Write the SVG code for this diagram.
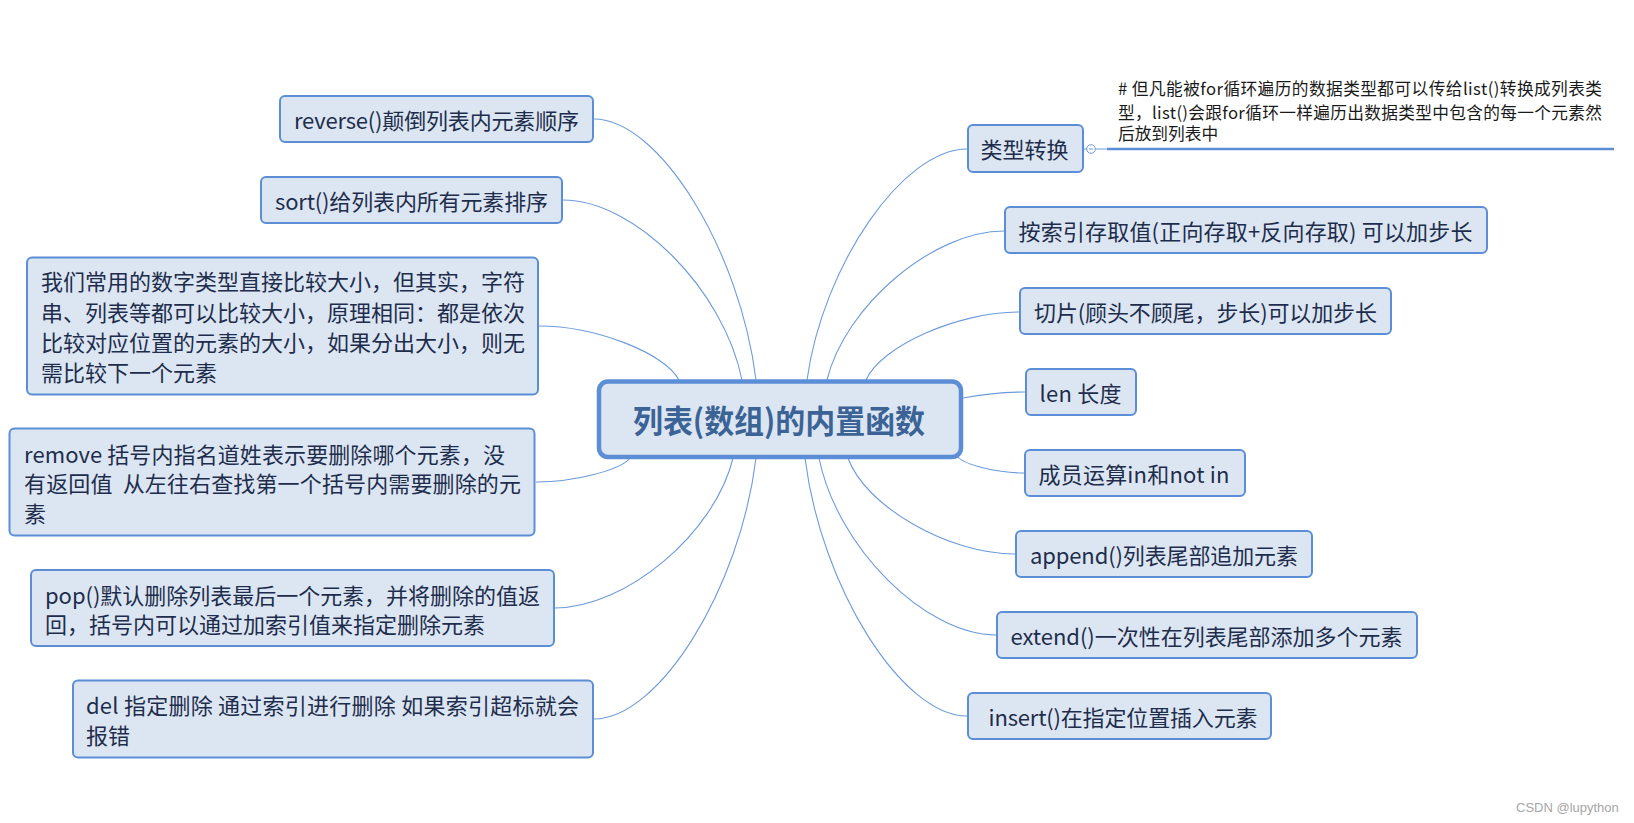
<svg xmlns="http://www.w3.org/2000/svg" width="1634" height="823" viewBox="0 0 1634 823">
<style>
.bg{fill:#ffffff}
.node rect{fill:#DCE6F2;stroke:#5B8ED6;stroke-width:2}
.node text{font-family:"Noto Sans CJK SC","Noto Sans",sans-serif;font-size:22px;fill:#1E2D4C}
#central rect{stroke-width:4.5}
#central text{font-size:32px;font-weight:bold;fill:#3B6396}
.conn path{fill:none;stroke:#6D9BDB;stroke-width:1.1}
.note{font-family:"Noto Sans CJK SC","Noto Sans",sans-serif;font-size:16.7px;fill:#1a1a1a}
.wm{font-family:"Liberation Sans",Arial,sans-serif;font-size:13px;fill:#a6a6a6}
</style>
<rect class="bg" x="0" y="0" width="1634" height="823"/>

<g id="connectors" class="conn">
  <path d="M594,119 C659,119 740,250 756,380"/>
  <path d="M563,200 C635,200 724,290 742,380"/>
  <path d="M539,326 C595,326 665,353 679,380"/>
  <path d="M536,482 C574,482 621,470 630,458"/>
  <path d="M555,608 C626,608 715,533 733,458"/>
  <path d="M594,719 C659,719 740,589 756,458"/>
  <path d="M967,149 C903,149 823,265 807,380"/>
  <path d="M1004,231 C933,231 845,306 827,380"/>
  <path d="M1019,312 C958,312 881,346 866,380"/>
  <path d="M1025,392 C1000,392 985,394 963,398"/>
  <path d="M1024,473 C998,473 965,465 958,457"/>
  <path d="M1015,554 C948,554 865,506 848,458"/>
  <path d="M996,635 C925,635 837,547 819,458"/>
  <path d="M967,716 C902,716 821,587 805,458"/>
</g>

<g id="central" class="node">
  <rect x="599" y="381.5" width="362" height="75.5" rx="9"/>
  <text x="633" y="433" textLength="292" lengthAdjust="spacingAndGlyphs">列表(数组)的内置函数</text>
</g>

<g id="n-reverse" class="node">
  <rect x="280" y="96" width="313" height="46" rx="5"/>
  <text x="294" y="128.5" textLength="285">reverse()颠倒列表内元素顺序</text>
</g>
<g id="n-sort" class="node">
  <rect x="261" y="177" width="301" height="46" rx="5"/>
  <text x="275" y="209.5" textLength="273">sort()给列表内所有元素排序</text>
</g>
<g id="n-compare" class="node">
  <rect x="27" y="257.5" width="511" height="137" rx="5"/>
  <text x="41" y="290">我们常用的数字类型直接比较大小，但其实，字符</text>
  <text x="41" y="320.5">串、列表等都可以比较大小，原理相同：都是依次</text>
  <text x="41" y="350.5">比较对应位置的元素的大小，如果分出大小，则无</text>
  <text x="41" y="380.5">需比较下一个元素</text>
</g>
<g id="n-remove" class="node">
  <rect x="9.5" y="428.5" width="525" height="107" rx="5"/>
  <text x="24" y="462.5" textLength="481">remove 括号内指名道姓表示要删除哪个元素，没</text>
  <text x="24" y="492" textLength="497" xml:space="preserve">有返回值  从左往右查找第一个括号内需要删除的元</text>
  <text x="24" y="521.5">素</text>
</g>
<g id="n-pop" class="node">
  <rect x="31" y="570" width="523" height="76" rx="5"/>
  <text x="45" y="603.5" textLength="495">pop()默认删除列表最后一个元素，并将删除的值返</text>
  <text x="45" y="632.5">回，括号内可以通过加索引值来指定删除元素</text>
</g>
<g id="n-del" class="node">
  <rect x="73" y="680.5" width="520" height="77" rx="5"/>
  <text x="86" y="714" textLength="493">del 指定删除 通过索引进行删除 如果索引超标就会</text>
  <text x="86" y="743.5">报错</text>
</g>

<g id="n-convert" class="node">
  <rect x="968" y="125" width="115" height="47" rx="5"/>
  <text x="980.5" y="158">类型转换</text>
</g>
<g id="convert-note">
  <line x1="1084" y1="149" x2="1087" y2="149" stroke="#6D9BDB" stroke-width="1"/>
  <circle cx="1091" cy="149" r="4.3" fill="#ffffff" stroke="#6D9BDB" stroke-width="1"/>
  <line x1="1088.8" y1="149" x2="1093.2" y2="149" stroke="#6D9BDB" stroke-width="1"/>
  <line x1="1095.3" y1="149" x2="1107" y2="149" stroke="#6D9BDB" stroke-width="1"/>
  <line x1="1107" y1="149" x2="1614" y2="149" stroke="#5B8ED6" stroke-width="2.6"/>
  <text class="note" x="1118" y="95.3" textLength="484" xml:space="preserve"># 但凡能被for循环遍历的数据类型都可以传给list()转换成列表类</text>
  <text class="note" x="1118" y="118.6" textLength="484">型，list()会跟for循环一样遍历出数据类型中包含的每一个元素然</text>
  <text class="note" x="1118" y="140.3">后放到列表中</text>
</g>
<g id="n-index" class="node">
  <rect x="1005" y="207" width="482" height="46" rx="5"/>
  <text x="1018.5" y="239.5" textLength="454">按索引存取值(正向存取+反向存取) 可以加步长</text>
</g>
<g id="n-slice" class="node">
  <rect x="1020" y="288" width="371" height="46" rx="5"/>
  <text x="1034" y="320.5" textLength="343">切片(顾头不顾尾，步长)可以加步长</text>
</g>
<g id="n-len" class="node">
  <rect x="1026" y="369" width="110" height="46" rx="5"/>
  <text x="1039.5" y="401.5" textLength="82">len 长度</text>
</g>
<g id="n-member" class="node">
  <rect x="1025" y="450" width="220" height="46" rx="5"/>
  <text x="1038.5" y="482.5" textLength="191">成员运算in和not in</text>
</g>
<g id="n-append" class="node">
  <rect x="1016" y="531" width="296" height="46" rx="5"/>
  <text x="1030" y="563.5" textLength="268">append()列表尾部追加元素</text>
</g>
<g id="n-extend" class="node">
  <rect x="997" y="612" width="420" height="46" rx="5"/>
  <text x="1010.5" y="644.5" textLength="392">extend()一次性在列表尾部添加多个元素</text>
</g>
<g id="n-insert" class="node">
  <rect x="968" y="693" width="303" height="46" rx="5"/>
  <text x="988.5" y="725.5" textLength="269">insert()在指定位置插入元素</text>
</g>

<text class="wm" x="1516" y="811.5">CSDN @lupython</text>
</svg>
